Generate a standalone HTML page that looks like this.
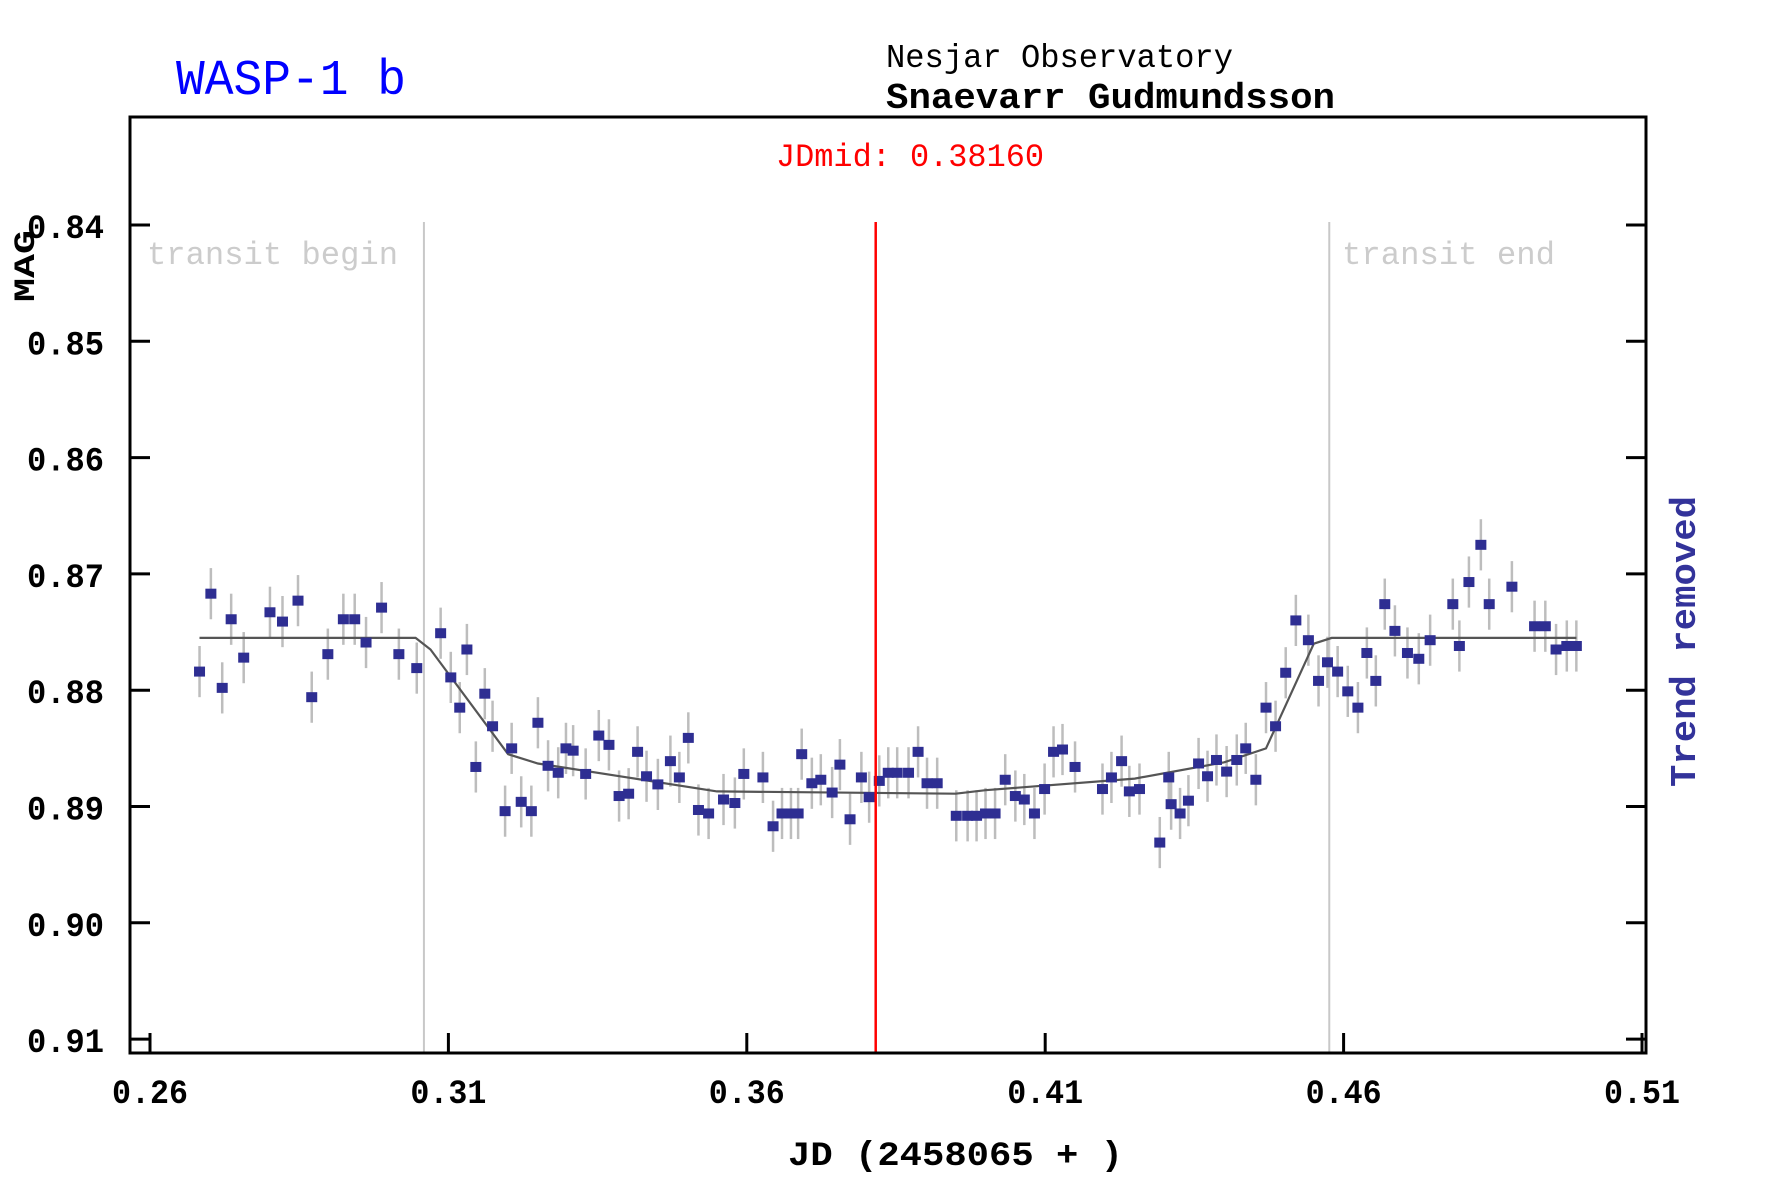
<!DOCTYPE html>
<html><head><meta charset="utf-8"><style>
html,body{margin:0;padding:0;background:#fff;}
svg{display:block;font-family:"Liberation Mono",monospace;}
</style></head><body>
<svg id="chart" width="1772" height="1182" viewBox="0 0 1772 1182" xmlns="http://www.w3.org/2000/svg">
<rect x="0" y="0" width="1772" height="1182" fill="#fff"/>
<text x="176" y="94" font-size="50" fill="#0000ff" textLength="230" lengthAdjust="spacingAndGlyphs">WASP-1 b</text>
<text x="886" y="67" font-size="33" fill="#000" textLength="347" lengthAdjust="spacingAndGlyphs">Nesjar Observatory</text>
<text x="886" y="108" font-size="36" font-weight="bold" fill="#000" textLength="449" lengthAdjust="spacingAndGlyphs">Snaevarr Gudmundsson</text>
<g id="plot"></g>
<text x="776" y="166" font-size="32" fill="#ff0000" textLength="268" lengthAdjust="spacingAndGlyphs">JDmid: 0.38160</text>
<text transform="translate(34,302) rotate(-90)" font-size="30" font-weight="bold" fill="#000" textLength="72" lengthAdjust="spacingAndGlyphs">MAG</text>
<text transform="translate(1695,787) rotate(-90)" font-size="36" font-weight="bold" fill="#33339a" textLength="291" lengthAdjust="spacingAndGlyphs">Trend removed</text>
<text x="788" y="1165" font-size="34" font-weight="bold" fill="#000" textLength="335" lengthAdjust="spacingAndGlyphs">JD (2458065 + )</text>
</svg>
<script>
const xTicks = [0.26,0.31,0.36,0.41,0.46,0.51];
const xTickLabels = ["0.26","0.31","0.36","0.41","0.46","0.51"];
const yTicks = [0.84,0.85,0.86,0.87,0.88,0.89,0.90,0.91];
const yTickLabels = ["0.84","0.85","0.86","0.87","0.88","0.89","0.90","0.91"];
const jdMid = 0.3816;
const transitBegin = 0.3059;
const transitEnd = 0.4576;
const errorSize = 0.0022;
const obsJD = [0.2683,0.2702,0.2721,0.2736,0.2757,0.2801,0.2822,0.2848,0.2871,0.2898,0.2924,0.2943,0.2962,0.2988,0.3017,0.3047,0.3087,0.3104,0.3119,0.3131,0.3146,0.3161,0.3174,0.3195,0.3206,0.3222,0.3239,0.3250,0.3267,0.3284,0.3297,0.3309,0.3330,0.3352,0.3369,0.3386,0.3402,0.3417,0.3432,0.3451,0.3472,0.3487,0.3502,0.3519,0.3536,0.3561,0.3580,0.3595,0.3627,0.3644,0.3659,0.3674,0.3686,0.3692,0.3709,0.3724,0.3743,0.3756,0.3773,0.3792,0.3805,0.3822,0.3837,0.3852,0.3871,0.3887,0.3902,0.3919,0.3951,0.3970,0.3985,0.4000,0.4016,0.4033,0.4050,0.4065,0.4082,0.4099,0.4114,0.4129,0.4150,0.4196,0.4211,0.4228,0.4241,0.4258,0.4292,0.4307,0.4311,0.4326,0.4340,0.4357,0.4372,0.4387,0.4404,0.4421,0.4436,0.4453,0.4470,0.4486,0.4503,0.4520,0.4541,0.4558,0.4573,0.4590,0.4607,0.4624,0.4639,0.4654,0.4669,0.4686,0.4707,0.4726,0.4745,0.4783,0.4794,0.4810,0.4830,0.4844,0.4882,0.4920,0.4938,0.4956,0.4974,0.4990];
const obsMag = [0.8784,0.8717,0.8798,0.8739,0.8772,0.8733,0.8741,0.8723,0.8806,0.8769,0.8739,0.8739,0.8759,0.8729,0.8769,0.8781,0.8751,0.8789,0.8815,0.8765,0.8866,0.8803,0.8831,0.8904,0.8850,0.8896,0.8904,0.8828,0.8865,0.8871,0.8850,0.8852,0.8872,0.8839,0.8847,0.8891,0.8889,0.8853,0.8874,0.8881,0.8861,0.8875,0.8841,0.8903,0.8906,0.8894,0.8897,0.8872,0.8875,0.8917,0.8906,0.8906,0.8906,0.8855,0.8880,0.8877,0.8888,0.8864,0.8911,0.8875,0.8892,0.8878,0.8871,0.8871,0.8871,0.8853,0.8880,0.8880,0.8908,0.8908,0.8908,0.8906,0.8906,0.8877,0.8891,0.8894,0.8906,0.8885,0.8853,0.8851,0.8866,0.8885,0.8875,0.8861,0.8887,0.8885,0.8931,0.8875,0.8898,0.8906,0.8895,0.8863,0.8874,0.8860,0.8870,0.8860,0.8850,0.8877,0.8815,0.8831,0.8785,0.8740,0.8757,0.8792,0.8776,0.8784,0.8801,0.8815,0.8768,0.8792,0.8726,0.8749,0.8768,0.8773,0.8757,0.8726,0.8762,0.8707,0.8675,0.8726,0.8711,0.8745,0.8745,0.8765,0.8762,0.8762];
const modelJD = [0.2683,0.3045,0.3070,0.3200,0.3250,0.3400,0.3550,0.3950,0.4000,0.4250,0.4400,0.4470,0.4550,0.4580,0.4990];
const modelMag = [0.8755,0.8755,0.8765,0.8855,0.8863,0.8875,0.8887,0.8889,0.8886,0.8876,0.8862,0.8850,0.8760,0.8755,0.8755];

const NS = "http://www.w3.org/2000/svg";
const X0 = 150, XS = 298.4/0.05, Y0 = 225, YS = 116.3/0.01;
const FL = 130, FR = 1646, FT = 117, FB = 1053;
function xs(v){ return X0 + (v - 0.26) * XS; }
function ys(v){ return Y0 + (v - 0.84) * YS; }
const plot = document.getElementById('plot');
function mk(tag, attrs, parent){
  const e = document.createElementNS(NS, tag);
  for (const k in attrs) e.setAttribute(k, attrs[k]);
  (parent || plot).appendChild(e);
  return e;
}

const tb = mk('line', {x1:xs(transitBegin), x2:xs(transitBegin), y1:222, y2:FB, stroke:'#c8c8c8', 'stroke-width':2});


const te = mk('line', {x1:xs(transitEnd), x2:xs(transitEnd), y1:222, y2:FB, stroke:'#c8c8c8', 'stroke-width':2});


const tbt = mk('text', {x:147, y:264, 'font-size':32, fill:'#cccccc', textLength:251, lengthAdjust:'spacingAndGlyphs'});
tbt.textContent = 'transit begin';


const tet = mk('text', {x:1342, y:264, 'font-size':32, fill:'#cccccc', textLength:213, lengthAdjust:'spacingAndGlyphs'});
tet.textContent = 'transit end';



for (let i = 0; i < obsJD.length; i++){
  const eb = mk('line', {x1:xs(obsJD[i]), x2:xs(obsJD[i]), y1:ys(obsMag[i]-errorSize), y2:ys(obsMag[i]+errorSize), stroke:'#bdbdbd', 'stroke-width':2.5});
  
  
}
let d = '';
for (let i = 0; i < modelJD.length; i++){ d += (i ? 'L' : 'M') + xs(modelJD[i]).toFixed(1) + ',' + ys(modelMag[i]).toFixed(1); }
const mp = mk('path', {d:d, fill:'none', stroke:'#555555', 'stroke-width':2.2});


for (let i = 0; i < obsJD.length; i++){
  const p = mk('rect', {x:xs(obsJD[i])-5.5, y:ys(obsMag[i])-5, width:11, height:10, fill:'#2e2e92'});
  
  
}
const jm = mk('line', {x1:xs(jdMid), x2:xs(jdMid), y1:222, y2:FB, stroke:'#ff0000', 'stroke-width':2.5});



const fr = mk('rect', {x:FL, y:FT, width:FR-FL, height:FB-FT, fill:'none', stroke:'#000', 'stroke-width':3});



for (let i = 0; i < yTicks.length; i++){
  const y = ys(yTicks[i]);
  const t1 = mk('line', {x1:FL, x2:FL+20, y1:y, y2:y, stroke:'#000', 'stroke-width':3});
  
  
  const t2 = mk('line', {x1:FR-20, x2:FR, y1:y, y2:y, stroke:'#000', 'stroke-width':3});
  
  
  const lb = mk('text', {x:104, y:y+13, 'font-size':34, 'font-weight':'bold', fill:'#000', 'text-anchor':'end', textLength:77, lengthAdjust:'spacingAndGlyphs'});
  lb.textContent = yTickLabels[i];
  
  
}
for (let i = 0; i < xTicks.length; i++){
  const x = xs(xTicks[i]);
  const t = mk('line', {x1:x, x2:x, y1:FB-20, y2:FB, stroke:'#000', 'stroke-width':3});
  
  
  const lb = mk('text', {x:x, y:1103, 'font-size':34, 'font-weight':'bold', fill:'#000', 'text-anchor':'middle', textLength:76, lengthAdjust:'spacingAndGlyphs'});
  lb.textContent = xTickLabels[i];
  
  
}
</script>
</body></html>
